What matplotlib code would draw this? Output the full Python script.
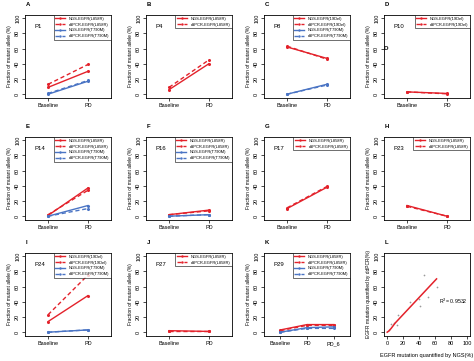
import numpy as np
import matplotlib
matplotlib.use("Agg")
import matplotlib.pyplot as plt

plt.rcParams['font.family'] = ['Liberation Sans', 'DejaVu Sans']

# ---- data ----
letters = ["A", "B", "C", "D", "E", "F", "G", "H", "I", "J", "K"]
patients = ["P1", "P4", "P8", "P10", "P14", "P16", "P17", "P23", "P24", "P27", "P29"]
mutations = ["L858R", "L858R", "19Del", "19Del", "L858R", "L858R", "L858R", "L858R", "19Del", "L858R", "L858R"]

ngs_main = [[9, 30], [6, 40], [62, 47], [3, 1], [1, 37], [2, 8], [10, 38], [14, 0], [14, 48], [2, 1], [3, 10, 10]]
ddpcr_main = [[13, 39], [9, 45], [63, 46], [3, 0.5], [2, 34], [2, 7], [11, 39], [13, 0], [23, 75], [1, 1], [2, 9, 9]]
ngs_t790m = [[0, 17], None, [0, 13], None, [0, 14], [0, 2], None, None, [0, 3], None, [0, 6, 7]]
ddpcr_t790m = [[1, 18], None, [0, 12], None, [0, 10], [0, 2], None, None, [0, 3], None, [0, 5, 5]]

timepoints = ["Baseline", "PD"]
timepoints_k = ["Baseline", "PD", "PD_6"]

# panel L: NGS vs ddPCR
ngs_pct = [2, 4.5, 8, 12, 13, 29, 40.5, 41, 46, 51, 62]
ddpcr_pct = [3, 11, 12, 10, 22, 39, 44, 34, 75, 46, 60]
fit_x = [0, 2, 5, 10, 62]
fit_y = [0, 1.5, 5, 12, 70]
r2 = 0.9532

RED = "#e3222b"
BLUE = "#4a74c4"

W, H = 474, 361
fig = plt.figure(figsize=(W / 100, H / 100), dpi=100)

col_left = [25, 146, 264, 384]
row_top = [15, 137, 253]
bw, bh = 86, 83


def make_ax(px, py):
    ax = fig.add_axes([px / W, 1 - (py + bh) / H, bw / W, bh / H])
    for s in ax.spines.values():
        s.set_linewidth(0.6)
    ax.tick_params(length=2, width=0.5, pad=1.5, labelsize=4)
    ax.set_ylim(-5, 104)
    ax.set_yticks([0, 20, 40, 60, 80, 100])
    for t in ax.get_yticklabels():
        t.set_rotation(90)
        t.set_va("center")
    return ax


for i in range(11):
    r, c = divmod(i, 4)
    ax = make_ax(col_left[c], row_top[r])
    tps = timepoints_k if len(ngs_main[i]) == 3 else timepoints
    x = np.arange(1, len(tps) + 1)
    ax.set_xlim(0.5 - 0.04 * len(tps), len(tps) + 0.5 + 0.04 * len(tps))
    ax.set_xticks(x)
    ax.set_xticklabels(tps)

    mut = mutations[i]
    ax.plot(x, ngs_main[i], color=RED, lw=1.0, marker="o", ms=1.2,
            label="NGS-EGFR(%s)" % mut)
    ax.plot(x, ddpcr_main[i], color=RED, lw=1.0, ls=(0, (3, 2)), marker="o", ms=1.2,
            label="ddPCR-EGFR(%s)" % mut)
    if ngs_t790m[i] is not None:
        ax.plot(x, ngs_t790m[i], color=BLUE, lw=1.0, marker="o", ms=1.2,
                label="NGS-EGFR(T790M)")
        ax.plot(x, ddpcr_t790m[i], color=BLUE, lw=1.0, ls=(0, (3, 2)), marker="o", ms=1.2,
                label="ddPCR-EGFR(T790M)")

    leg = ax.legend(loc="upper right", prop={"size": 2.9}, frameon=True, fancybox=False,
                    borderaxespad=0, handlelength=2.4, handletextpad=0.9,
                    labelspacing=0.45, borderpad=0.45, markerscale=0.6)
    leg.get_frame().set_edgecolor("black")
    leg.get_frame().set_linewidth(0.5)

    ax.text(0.11, 0.84, patients[i], transform=ax.transAxes, fontsize=4.3)
    ax.set_ylabel("Fraction of mutant allele (%)", fontsize=3.5, labelpad=2)
    fig.text((col_left[c] + 1) / W, 1 - (row_top[r] - 10) / H, letters[i],
             fontsize=4.3, fontweight="bold", va="center")

    if letters[i] == "D":
        # stray panel letter inside panel D in the original figure
        ax.text(0.0, 0.6, "D", transform=ax.transAxes, fontsize=4.5,
                fontweight="bold", va="center")

# panel L
ax = make_ax(col_left[3], row_top[2])
ax.set_xlim(-4, 104)
ax.set_xticks([0, 20, 40, 60, 80, 100])
ax.scatter(ngs_pct, ddpcr_pct, s=1.5, color="#9a9a9a", lw=0)
ax.plot(fit_x, fit_y, color=RED, lw=1.1)
ax.text(65, 40, "R$^2$= %.4f" % r2, fontsize=3.8, va="center")
ax.set_ylabel("EGFR mutation quantified by ddPCR(%)", fontsize=3.5, labelpad=2)
ax.set_xlabel("EGFR mutation quantified by NGS(%)", fontsize=4, labelpad=5)
fig.text((col_left[3] + 1) / W, 1 - (row_top[2] - 10) / H, "L",
         fontsize=4.3, fontweight="bold", va="center")

fig.savefig("out.png", dpi=100)
